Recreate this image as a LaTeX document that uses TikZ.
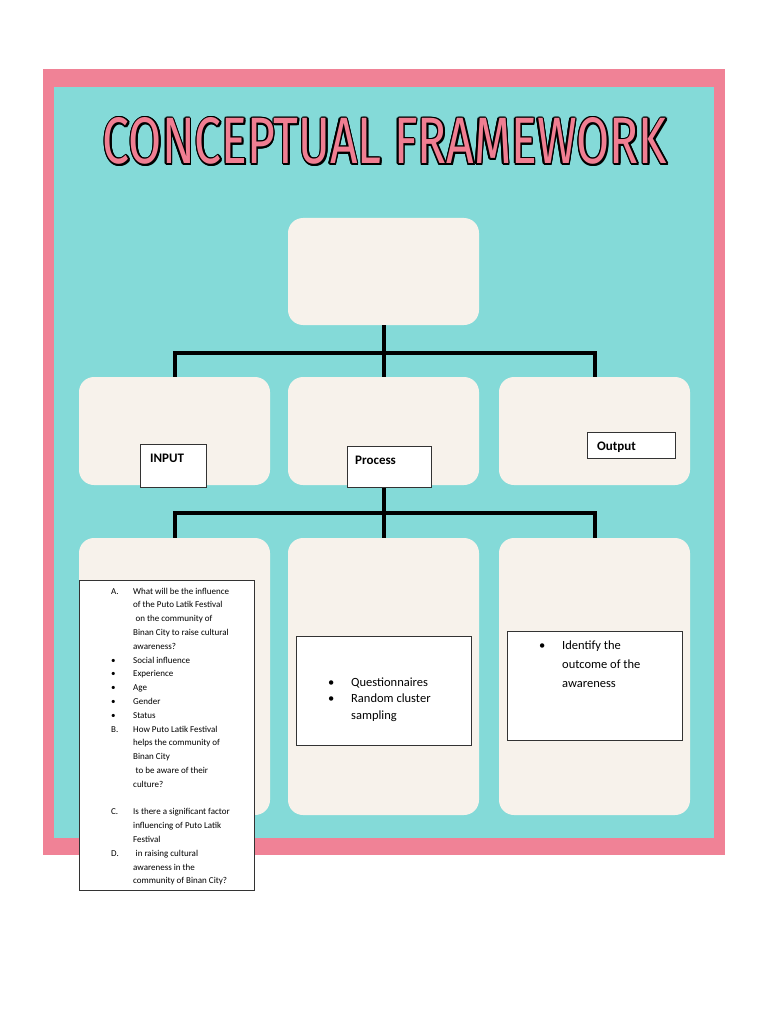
\documentclass[tikz,border=0pt]{standalone}
\usepackage{fontspec}
\usepackage{graphicx}
\usetikzlibrary{calc}
\setmainfont{Carlito}
\newfontfamily\titlefont{Fira Sans}
\definecolor{pinkc}{HTML}{F08296}
\definecolor{tealc}{HTML}{84DAD8}
\definecolor{creamc}{HTML}{F7F2EB}
\definecolor{titlec}{HTML}{F07E92}
\newcommand\mytitle{\resizebox{564pt}{46pt}{\titlefont CONCEPTUAL FRAMEWORK}}
\tikzset{
 cream/.style={fill=creamc, rounded corners=15pt, minimum width=191pt, inner sep=0pt},
 conn/.style={line width=4pt, black, line join=miter},
 lbl/.style={draw=black!80, line width=0.8pt, fill=white, inner sep=0pt},
 txtbox/.style={draw=black!80, line width=0.8pt, fill=white, inner sep=0pt, minimum width=175pt},
 ltxt/.style={anchor=base west, inner sep=0pt, font=\fontsize{9}{10}\selectfont},
 mtxt/.style={anchor=base west, inner sep=0pt, font=\fontsize{12.5}{14}\selectfont},
 btxt/.style={anchor=base west, inner sep=0pt, font=\bfseries\fontsize{13}{14}\selectfont},
 titletxt/.style={inner sep=0pt, anchor=base},
}
\begin{document}
\begin{tikzpicture}[x=1pt,y=-1pt]
\useasboundingbox (0,0) rectangle (768,1024);
\fill[white] (0,0) rectangle (768,1024);
\fill[pinkc] (43,69) rectangle (725,855);
\fill[tealc] (54,87) rectangle (714,838);

% title: black outline made of shifted copies, pink text on top
\foreach \k in {0,30,...,330} {
 \node[titletxt, text=black] (tsh\k) at ($(385,164)+(\k:1.5)$) {\mytitle};
}
\node[titletxt, text=black] (tshd) at (386.5,165.5) {\mytitle};
\node[titletxt, text=titlec] (title) at (385,164) {\mytitle};

% boxes
\node[cream, minimum height=107pt] (top) at (383.5,271.5) {};
\node[cream, minimum height=108pt] (r2a) at (174.5,431) {};
\node[cream, minimum height=108pt] (r2b) at (383.5,431) {};
\node[cream, minimum height=108pt] (r2c) at (594.5,431) {};
\node[cream, minimum height=277pt] (r3a) at (174.5,676.5) {};
\node[cream, minimum height=277pt] (r3b) at (383.5,676.5) {};
\node[cream, minimum height=277pt] (r3c) at (594.5,676.5) {};

% connectors
\coordinate (j1) at (383.5,353);
\coordinate (j2) at (383.5,513);
\draw[conn] (top.south) -- (r2b.north);
\draw[conn] (r2a.north) |- (j1) -| (r2c.north);
\draw[conn] (r2b.south) -- (r3b.north);
\draw[conn] (r3a.north) |- (j2) -| (r3c.north);

% label boxes
\node[lbl, minimum width=66pt, minimum height=43pt] (inp) at (173,465.5) {};
\node[btxt] (inpt) at (150,462) {INPUT};
\node[lbl, minimum width=84pt, minimum height=41pt] (proc) at (389,466.5) {};
\node[btxt] (proct) at (355,464) {Process};
\node[lbl, minimum width=88pt, minimum height=26pt] (outp) at (631,445) {};
\node[btxt] (outpt) at (597,450) {Output};

% text boxes
\node[txtbox, minimum height=310pt] (tl) at (166.5,735) {};
\node[txtbox, minimum height=109pt] (tm) at (383.5,690.5) {};
\node[txtbox, minimum height=109pt] (tr) at (594.5,685.5) {};

\foreach \i/\lab/\t in {
 0/A./What will be the influence,
 1/{}/of the Puto Latik Festival,
 2/{}/\hspace*{2.5pt}on the community of,
 3/{}/Binan City to raise cultural,
 4/{}/awareness?,
 5/\textbullet/Social influence,
 6/\textbullet/Experience,
 7/\textbullet/Age,
 8/\textbullet/Gender,
 9/\textbullet/Status,
 10/B./How Puto Latik Festival,
 11/{}/helps the community of,
 12/{}/Binan City,
 13/{}/\hspace*{2.5pt}to be aware of their,
 14/{}/culture?,
 16/C./Is there a significant factor,
 17/{}/influencing of Puto Latik,
 18/{}/Festival,
 19/D./\hspace*{2.5pt}in raising cultural,
 20/{}/awareness in the,
 21/{}/community of Binan City?}
{
 \node[ltxt] (la\i) at (111,594+13.8*\i) {\lab};
 \node[ltxt] (lt\i) at (133,594+13.8*\i) {\t};
}

\node[mtxt] (mb1) at (328,686) {\textbullet};
\node[mtxt] (mt1) at (351,686) {Questionnaires};
\node[mtxt] (mb2) at (328,702.5) {\textbullet};
\node[mtxt] (mt2) at (351,702.5) {Random cluster};
\node[mtxt] (mt3) at (351,719) {sampling};

\node[mtxt] (rb1) at (539,649) {\textbullet};
\node[mtxt] (rt1) at (562,649) {Identify the};
\node[mtxt] (rt2) at (562,668) {outcome of the};
\node[mtxt] (rt3) at (562,687) {awareness};
\end{tikzpicture}
\end{document}
